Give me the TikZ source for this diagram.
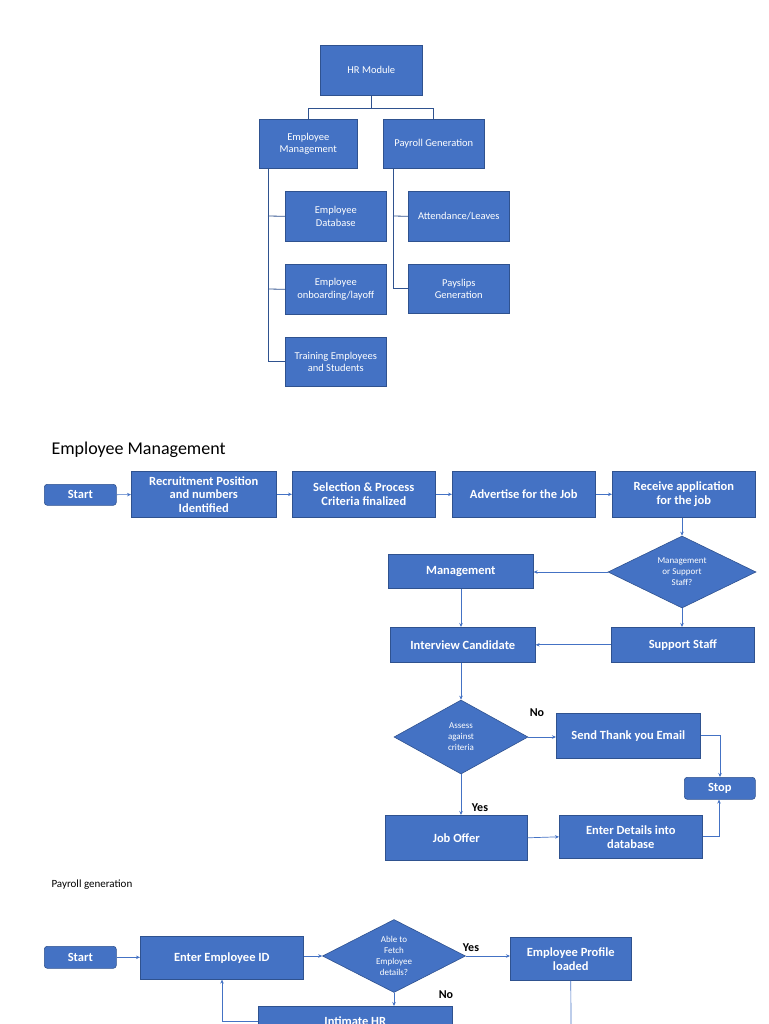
\documentclass[tikz,border=0pt]{standalone}
\usepackage{fontspec}
\setmainfont{Carlito}
\usetikzlibrary{shapes.geometric,arrows.meta}
\definecolor{fillb}{HTML}{4472C4}
\definecolor{edgeb}{HTML}{2F528F}
\begin{document}
\begin{tikzpicture}[x=1pt,y=-1pt,
 box/.style={draw=edgeb,fill=fillb,line width=0.6pt,text=white,align=center,inner sep=0pt,anchor=north west},
 tbox/.style={box,font=\fontsize{10.5}{12.5}\selectfont},
 fbox/.style={box,font=\fontsize{12.5}{14}\selectfont\bfseries},
 dia/.style={diamond,draw=edgeb,fill=fillb,line width=0.6pt,text=white,align=center,inner sep=0pt,font=\fontsize{9}{11}\selectfont},
 tl/.style={draw=edgeb,line width=0.8pt},
 ar/.style={draw=fillb,line width=0.7pt,-{Stealth[length=4pt,width=3.5pt]}},
 ln/.style={draw=fillb,line width=0.7pt},
 lab/.style={font=\fontsize{12}{14}\selectfont\bfseries}]
\useasboundingbox (0,0) rectangle (768,1024);
% tree
\node[tbox,minimum width=102pt,minimum height=50pt] (hr) at (320,45) {HR Module};
\node[tbox,minimum width=98pt,minimum height=49pt] (em) at (259,119) {Employee\\Management};
\node[tbox,minimum width=101pt,minimum height=49pt] (pg) at (383,119) {Payroll Generation};
\node[tbox,minimum width=101pt,minimum height=50pt] (ed) at (285,191) {Employee\\Database};
\node[tbox,minimum width=101pt,minimum height=50pt] (eo) at (285,264) {Employee\\onboarding/layoff};
\node[tbox,minimum width=101pt,minimum height=49pt] (te) at (285,337) {Training Employees\\and Students};
\node[tbox,minimum width=101pt,minimum height=50pt] (al) at (408,191) {Attendance/Leaves};
\node[tbox,minimum width=101pt,minimum height=49pt] (ps) at (408,264) {Payslips\\Generation};
\draw[tl] (hr.south) -- ++(0,13) -| (em.north -| 308,0);
\draw[tl] (hr.south) ++(0,13) -| (433,119);
\draw[tl] (268,168) |- (te.west);
\draw[tl] (268,216) -- (ed.west);
\draw[tl] (268,289) -- (eo.west);
\draw[tl] (393,168) |- (ps.west);
\draw[tl] (393,216) -- (al.west);
% Employee management
\node[anchor=west,font=\fontsize{18}{20}\selectfont] (t1) at (48,450) {Employee Management};
\node[fbox,rounded corners=3pt,minimum width=72pt,minimum height=21pt] (s1) at (44,484) {Start};
\node[fbox,minimum width=145pt,minimum height=46pt,font=\fontsize{12.5}{13.5}\selectfont\bfseries] (rp) at (131,471) {Recruitment Position\\and numbers\\Identified};
\node[fbox,minimum width=143pt,minimum height=46pt] (sp) at (292,471) {Selection \& Process\\Criteria finalized};
\node[fbox,minimum width=143pt,minimum height=46pt] (ad) at (452,471) {Advertise for the Job};
\node[fbox,minimum width=143pt,minimum height=46pt] (ra) at (612,471) {Receive application\\for the job};
\node[dia,minimum width=148pt,minimum height=72pt,aspect=2] (d1) at (682,572) {Management\\or Support\\Staff?};
\node[fbox,minimum width=145pt,minimum height=34pt] (mg) at (388,554) {Management};
\node[fbox,minimum width=143pt,minimum height=35pt] (ss) at (611,627) {Support Staff};
\node[fbox,minimum width=145pt,minimum height=35pt] (ic) at (390,627) {Interview Candidate};
\node[dia,minimum width=134pt,minimum height=74pt,aspect=1.8] (d2) at (461,737) {Assess\\against\\criteria};
\node[fbox,minimum width=144pt,minimum height=45pt] (ty) at (556,713) {Send Thank you Email};
\node[fbox,rounded corners=3pt,minimum width=71pt,minimum height=22pt] (st) at (684,777) {Stop};
\node[fbox,minimum width=142pt,minimum height=45pt] (jo) at (385,815) {Job Offer};
\node[fbox,minimum width=143pt,minimum height=43pt] (en) at (559,815) {Enter Details into\\database};
\draw[ar] (s1) -- (rp);
\draw[ar] (rp) -- (sp);
\draw[ar] (sp) -- (ad);
\draw[ar] (ad) -- (ra);
\draw[ar] (ra.south -| d1.north) -- (d1.north);
\draw[ar] (d1.west) -- (mg.east |- d1.west);
\draw[ar] (d1.south) -- (d1.south |- ss.north);
\draw[ar] (ss.west) -- (ic.east);
\draw[ar] (mg.south -| 461,0) -- (ic.north -| 461,0);
\draw[ar] (ic.south -| d2.north) -- (d2.north);
\draw[ar] (d2.east) -- (ty.west |- d2.east);
\draw[ar] (ty.east) -| (st.north -| 720,0);
\draw[ar] (d2.south) -- (jo.north -| d2.south);
\draw[ar] (jo.east) -- (en.west);
\draw[ar] (en.east) -| (st.south -| 719,0);
\node[lab] (no1) at (537,713) {No};
\node[lab] (ye1) at (480,808) {Yes};
% Payroll
\node[anchor=west,font=\fontsize{11}{13}\selectfont] (t2) at (48,885) {Payroll generation};
\node[fbox,rounded corners=3pt,minimum width=72pt,minimum height=22pt] (s2) at (44,946) {Start};
\node[fbox,minimum width=163pt,minimum height=43pt] (ei) at (140,936) {Enter Employee ID};
\node[dia,minimum width=143pt,minimum height=73pt,aspect=2] (d3) at (394,956) {Able to\\Fetch\\Employee\\details?};
\node[fbox,minimum width=121pt,minimum height=43pt] (pl) at (510,937) {Employee Profile\\loaded};
\node[fbox,minimum width=194pt,minimum height=30pt,anchor=north west] (ih) at (258,1006) {Intimate HR};
\draw[ar] (s2) -- (ei.west |- s2);
\draw[ar] (ei.east |- d3.west) -- (d3.west);
\draw[ar] (d3.east) -- (pl.west |- d3.east);
\draw[ar] (d3.south) -- (ih.north -| d3.south);
\draw[ar] (ih.west |- 0,1021) -| (ei.south -| 222,0);
\draw[ln] (pl.south) -- (571,1030);
\node[lab] (ye2) at (471,948) {Yes};
\node[lab] (no2) at (446,995) {No};
\end{tikzpicture}
\end{document}
